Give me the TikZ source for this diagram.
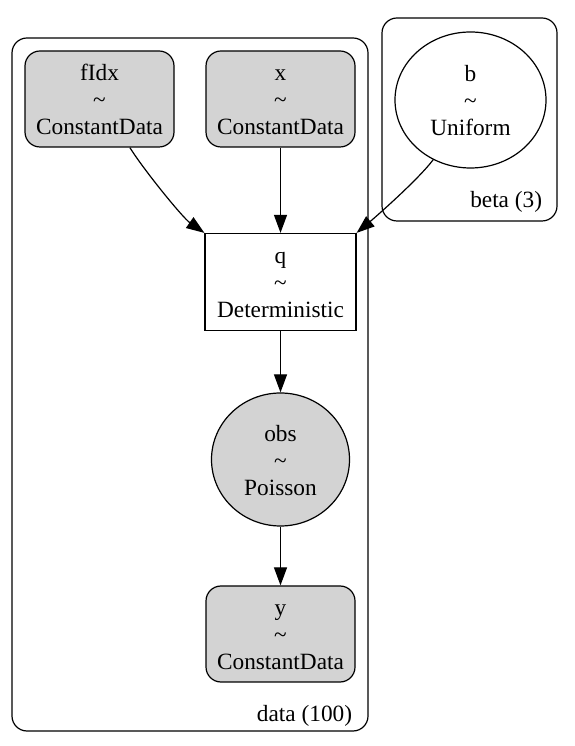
\documentclass[tikz,border=0pt]{standalone}
\usepackage{fontspec}
\setmainfont{Liberation Serif}
\usetikzlibrary{arrows.meta,shapes.geometric}
\definecolor{nodegray}{HTML}{D3D3D3}
\newcommand{\rvtext}[2]{\rule{0pt}{18pt}#1\\\textasciitilde\\#2}

\begin{document}
\begin{tikzpicture}[x=1pt, y=1pt, line width=1.2pt,
		every node/.style={font=\fontsize{23.3}{27}\selectfont},
		plate/.style={draw, rounded corners=15pt},
		constdata/.style={draw, fill=nodegray, rounded corners=15pt, align=center, inner sep=0pt, minimum width=149pt, minimum height=96pt},
		detbox/.style={draw, fill=white, align=center, inner sep=0pt, minimum width=151pt, minimum height=97pt},
		rvnode/.style={draw, ellipse, align=center, inner sep=0pt},
		edge/.style={-{Triangle[length=18pt,width=13pt]}}]
		\useasboundingbox (0,0) rectangle (574,746);

		\draw[plate] (12,15) rectangle (368,708);
		\node[anchor=base east] (datalbl) at (356,24) {data (100)};

		\draw[plate] (382,525) rectangle (557,728);
		\node[anchor=base east] (betalbl) at (546,538) {beta (3)};

		\node[constdata] (fIdx) at (99.5,647) {\rvtext{fIdx}{ConstantData}};
		\node[constdata] (x) at (280.5,647) {\rvtext{x}{ConstantData}};
		\node[rvnode, fill=white, minimum width=151pt, minimum height=136pt] (b) at (470.5,646) {\rvtext{b}{Uniform}};

		\node[detbox] (q) at (280.5,464) {\rvtext{q}{Deterministic}};
		\node[rvnode, fill=nodegray, minimum width=138pt, minimum height=133pt] (obs) at (280.5,286.5) {\rvtext{obs}{Poisson}};
		\node[constdata] (y) at (280.5,112) {\rvtext{y}{ConstantData}};

		\draw[edge] (fIdx.-58) to[out=-58, in=145, looseness=0.6] (q.north west);
		\draw[edge] (x) -- (q);
		\draw[edge] (b.-122) to[out=-127, in=40, looseness=0.6] (q.north east);
		\draw[edge] (q) -- (obs);
		\draw[edge] (obs) -- (y);
	\end{tikzpicture}
\end{document}
